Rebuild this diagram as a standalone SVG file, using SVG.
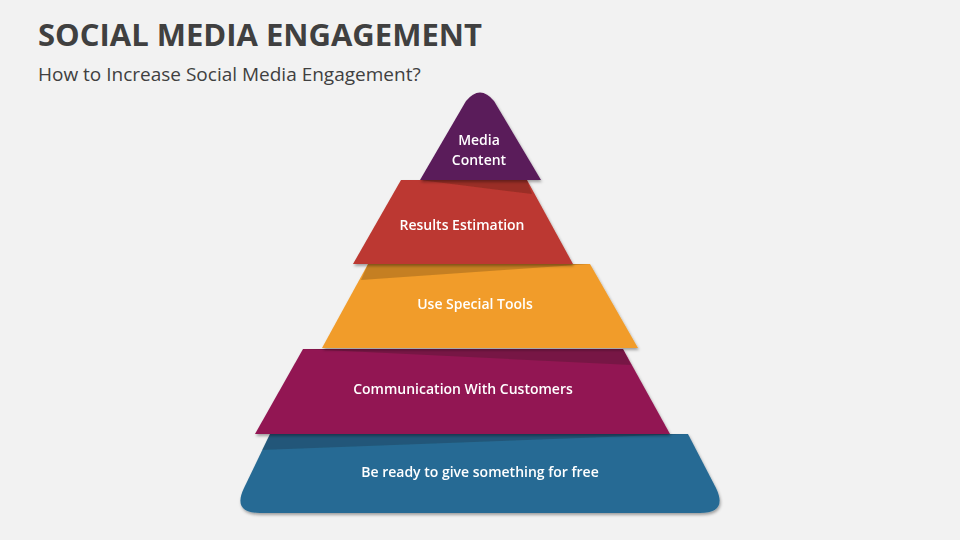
<svg xmlns="http://www.w3.org/2000/svg" width="960" height="540" viewBox="0 0 960 540">
<defs>
<style>
.t{font-family:"Open Sans","Liberation Sans",sans-serif;font-size:14px;font-weight:600;fill:#fff;text-anchor:middle}
.d{fill:#000;opacity:0.18}
</style>
<filter id="sh" x="-10%" y="-10%" width="120%" height="130%"><feDropShadow dx="1" dy="2" stdDeviation="1.5" flood-opacity="0.35"/></filter>
</defs>
<rect width="960" height="540" fill="#f2f2f2"/>
<text x="38" y="46" font-family="'Open Sans','Liberation Sans',sans-serif" font-weight="bold" font-size="31" fill="#404040">SOCIAL MEDIA ENGAGEMENT</text>
<text x="38" y="81" font-family="'Open Sans','Liberation Sans',sans-serif" font-size="19" fill="#404040">How to Increase Social Media Engagement?</text>
<g id="blue" filter="url(#sh)">
<path d="M270 434 L688 434 L716 488 Q728 513 700 513 L260 513 Q232 513 244 488 Z" fill="#286b94"/>
<path class="d" d="M270 434 L688 434 L262 450 Z"/>
<text class="t" x="480" y="477">Be ready to give something for free</text>
</g>
<g id="magenta" filter="url(#sh)">
<path d="M303 349 L623 349 L670 434 L255 434 Z" fill="#921653"/>
<path class="d" d="M303 349 L623 349 L631 365 Z"/>
<text class="t" x="463" y="394">Communication With Customers</text>
</g>
<g id="orange" filter="url(#sh)">
<path d="M368 264 L590 264 L638 348 L322 348 Z" fill="#f19c2a"/>
<path class="d" d="M368 264 L590 264 L361 280 Z"/>
<text class="t" x="475" y="309">Use Special Tools</text>
</g>
<g id="red" filter="url(#sh)">
<path d="M401 180 L527 180 L573 264 L353 264 Z" fill="#bc3830"/>
<path class="d" d="M420 180 L527 180 L532 194 Z"/>
<text class="t" x="462" y="230">Results Estimation</text>
</g>
<g id="purple" filter="url(#sh)">
<path d="M420 180 L466 101 Q480 84 494 101 L541 180 Z" fill="#5a1a5a"/>
<text class="t" x="479" y="145">Media</text>
<text class="t" x="479" y="165">Content</text>
</g>
<g id="connectors"/>
</svg>
